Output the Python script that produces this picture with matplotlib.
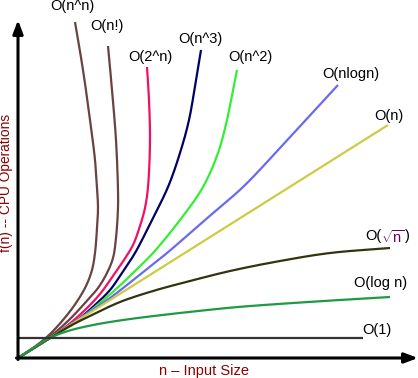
import numpy as np
import matplotlib
matplotlib.use("Agg")
import matplotlib.pyplot as plt

plt.rcParams['font.family'] = ['Liberation Sans', 'DejaVu Sans']
plt.rcParams['mathtext.fontset'] = 'custom'
plt.rcParams['mathtext.rm'] = 'Liberation Sans'
plt.rcParams['mathtext.it'] = 'Liberation Sans'

# ---- data (n, f(n)) ----
nn_x = [0, 15, 30, 45, 58, 68, 74, 77, 79, 80, 79, 77, 72, 65, 57]
nn_y = [0, 10, 22, 38, 55, 72, 88, 105, 130, 150, 170, 198, 238, 288, 336]

nfact_x = [0, 17, 34, 52, 67, 80, 89, 95, 98, 100, 100, 98, 94, 90]
nfact_y = [0, 11, 23, 39, 55, 70, 85, 100, 120, 150, 168, 218, 268, 312]

exp_x = [0, 16, 32, 50, 67, 82, 95, 106, 115, 122, 127, 130, 132, 131, 129]
exp_y = [0, 10, 20, 33, 48, 64, 82, 98, 113, 132, 150, 171, 218, 258, 291]

cube_x = [0, 32, 57, 77, 92, 104, 117, 134, 150, 162, 171, 178, 183]
cube_y = [0, 20, 36, 53, 68, 85, 105, 138, 171, 205, 238, 278, 308]

sq_x = [0, 32, 54, 77, 97, 115, 135, 162, 185, 200, 209, 214, 219]
sq_y = [0, 20, 33, 51, 68, 85, 105, 138, 171, 205, 238, 263, 288]

nlogn_x = [0, 32, 62, 92, 119, 149, 187, 225, 262, 320]
nlogn_y = [0, 20, 40, 60, 81, 105, 138, 171, 210, 273]

lin_x = [0, 370]
lin_y = [0, 233]

sqrt_x = [0, 32, 52, 74, 102, 135, 172, 212, 262, 312, 372]
sqrt_y = [0, 20, 32, 43, 56, 67, 77, 87, 97, 105, 110]

log_x = [0, 32, 50, 75, 105, 140, 180, 220, 290, 372]
log_y = [0, 20, 27, 33, 38, 42.5, 47, 51, 56, 61]

const_x = [0, 345]
const_y = [20, 20]

labels = ["O(n^n)", "O(n!)", "O(2^n)", "O(n^3)", "O(n^2)", "O(nlogn)",
          "O(n)", "O(log n)", "O(1)"]


def smooth(xs, ys, k=16, alpha=0.5):
    """Centripetal Catmull-Rom rendering through the given points."""
    p = np.column_stack([xs, ys]).astype(float)
    if len(p) < 3:
        return p[:, 0], p[:, 1]
    ext = np.vstack([2 * p[0] - p[1], p, 2 * p[-1] - p[-2]])
    out = []
    for i in range(1, len(ext) - 2):
        P0, P1, P2, P3 = ext[i - 1], ext[i], ext[i + 1], ext[i + 2]
        t0 = 0.0
        t1 = t0 + np.linalg.norm(P1 - P0) ** alpha
        t2 = t1 + np.linalg.norm(P2 - P1) ** alpha
        t3 = t2 + np.linalg.norm(P3 - P2) ** alpha
        for t in np.linspace(t1, t2, k, endpoint=False):
            A1 = (t1 - t) / (t1 - t0) * P0 + (t - t0) / (t1 - t0) * P1
            A2 = (t2 - t) / (t2 - t1) * P1 + (t - t1) / (t2 - t1) * P2
            A3 = (t3 - t) / (t3 - t2) * P2 + (t - t2) / (t3 - t2) * P3
            B1 = (t2 - t) / (t2 - t0) * A1 + (t - t0) / (t2 - t0) * A2
            B2 = (t3 - t) / (t3 - t1) * A2 + (t - t1) / (t3 - t1) * A3
            C = (t2 - t) / (t2 - t1) * B1 + (t - t1) / (t2 - t1) * B2
            out.append(C)
    out.append(p[-1])
    out = np.array(out)
    return out[:, 0], out[:, 1]


fig = plt.figure(figsize=(4.18, 3.78), dpi=100)
ax = fig.add_axes([0, 0, 1, 1])
ax.set_xlim(-18, 400)
ax.set_ylim(-20, 358)
ax.axis('off')

lw = 1.6
series = [
    (nn_x, nn_y, '#6b4242'),
    (nfact_x, nfact_y, '#6b4242'),
    (exp_x, exp_y, '#ee1166'),
    (cube_x, cube_y, '#000066'),
    (sq_x, sq_y, '#33ee33'),
    (nlogn_x, nlogn_y, '#6a6aee'),
    (lin_x, lin_y, '#cccc44'),
    (sqrt_x, sqrt_y, '#333311'),
    (log_x, log_y, '#1f9944'),
    (const_x, const_y, '#333333'),
]
for xs, ys, c in series:
    sx, sy = smooth(xs, ys)
    ax.plot(sx, sy, color=c, lw=lw, solid_capstyle='butt', zorder=3)

# axes arrows
ax.annotate('', xy=(0, 338), xytext=(0, -1.5),
            arrowprops=dict(arrowstyle='-|>,head_length=0.8,head_width=0.3',
                            color='black', lw=2.2, shrinkA=0, shrinkB=0), zorder=4)
ax.annotate('', xy=(400, 0), xytext=(-1.5, 0),
            arrowprops=dict(arrowstyle='-|>,head_length=0.8,head_width=0.3',
                            color='black', lw=2.2, shrinkA=0, shrinkB=0), zorder=4)

fs = 10.5
label_pos = [(54, 352), (89, 332), (132, 301), (182, 319), (232, 301),
             (333, 284), (371, 242), (363, 75), (359, 28)]
for t, (x, y) in zip(labels, label_pos):
    ax.text(x, y, t, fontsize=fs, ha='center', va='center', color='black')

# O(sqrt n)
ax.text(347, 122, "O(", fontsize=fs, ha='left', va='center')
ax.text(363, 121, r"$\sqrt{\mathregular{n}}$", fontsize=fs, ha='left', va='center',
        color='#660066')
ax.text(387, 122, ")", fontsize=fs, ha='left', va='center')

ax.text(-12, 175, "f(n) -- CPU Operations", fontsize=9.9, rotation=90,
        ha='center', va='center', color='#8b0000')
ax.text(186, -13, "n \u2013 Input Size", fontsize=fs, ha='center', va='center',
        color='#8b0000')

fig.savefig('out.png', dpi=100)
